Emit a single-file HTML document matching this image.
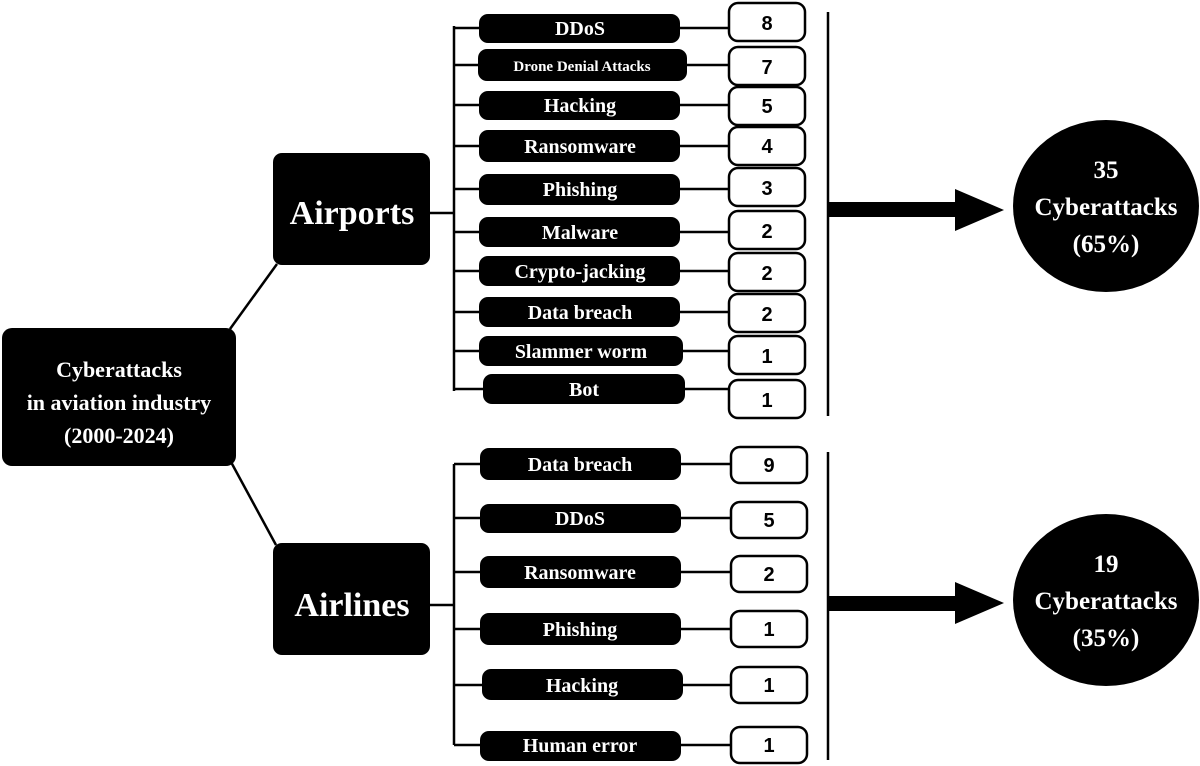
<!DOCTYPE html>
<html><head><meta charset="utf-8"><style>
html,body{margin:0;padding:0;background:#fff;width:1200px;height:766px;overflow:hidden}
svg{display:block}
.s{font-family:"Liberation Serif",serif;font-weight:bold;fill:#fff;text-anchor:middle}
.n{font-family:"Liberation Sans",sans-serif;font-weight:bold;fill:#000;text-anchor:middle;font-size:20px}
</style></head><body>
<svg width="1200" height="766" viewBox="0 0 1200 766" xmlns="http://www.w3.org/2000/svg">
<g stroke="#000" stroke-width="2.5" fill="none">
<line x1="230" y1="329" x2="277" y2="264"/>
<line x1="231" y1="462" x2="276" y2="545"/>
<line x1="430" y1="213" x2="454" y2="213"/>
<line x1="430" y1="605" x2="454" y2="605"/>
<line x1="454" y1="26" x2="454" y2="391"/>
<line x1="454" y1="464" x2="454" y2="745"/>
<line x1="828" y1="12" x2="828" y2="416"/>
<line x1="828" y1="452" x2="828" y2="760"/>
</g>
<rect x="2" y="328" width="234" height="138" rx="10" fill="#000"/>
<text class="s" font-size="22"><tspan x="119" y="377">Cyberattacks</tspan><tspan x="119" y="410">in aviation industry</tspan><tspan x="119" y="443">(2000-2024)</tspan></text>
<rect x="273" y="153" width="157" height="112" rx="9" fill="#000"/>
<text class="s" x="352" y="224" font-size="34">Airports</text>
<rect x="273" y="543" width="157" height="112" rx="9" fill="#000"/>
<text class="s" x="352" y="616" font-size="34">Airlines</text>

<g stroke="#000" stroke-width="2.5">
<line x1="454" y1="28" x2="730" y2="28"/>
<line x1="454" y1="65" x2="730" y2="65"/>
<line x1="454" y1="105" x2="730" y2="105"/>
<line x1="454" y1="146" x2="730" y2="146"/>
<line x1="454" y1="189" x2="730" y2="189"/>
<line x1="454" y1="232" x2="730" y2="232"/>
<line x1="454" y1="271" x2="730" y2="271"/>
<line x1="454" y1="312" x2="730" y2="312"/>
<line x1="454" y1="351" x2="730" y2="351"/>
<line x1="454" y1="389" x2="730" y2="389"/>
<line x1="454" y1="464" x2="730" y2="464"/>
<line x1="454" y1="518" x2="730" y2="518"/>
<line x1="454" y1="572" x2="730" y2="572"/>
<line x1="454" y1="629" x2="730" y2="629"/>
<line x1="454" y1="685" x2="730" y2="685"/>
<line x1="454" y1="745" x2="730" y2="745"/>
</g>
<g fill="#000">
<rect x="479" y="14" width="201" height="29" rx="9"/>
<rect x="478" y="49" width="209" height="32" rx="9"/>
<rect x="479" y="91" width="201" height="29" rx="9"/>
<rect x="479" y="130" width="201" height="32" rx="9"/>
<rect x="479" y="174" width="201" height="31" rx="9"/>
<rect x="479" y="217" width="201" height="30" rx="9"/>
<rect x="479" y="256" width="201" height="30" rx="9"/>
<rect x="479" y="297" width="201" height="30" rx="9"/>
<rect x="479" y="336" width="204" height="30" rx="9"/>
<rect x="483" y="374" width="202" height="30" rx="9"/>
<rect x="480" y="448" width="201" height="32" rx="9"/>
<rect x="480" y="504" width="201" height="29" rx="9"/>
<rect x="480" y="556" width="201" height="32" rx="9"/>
<rect x="480" y="613" width="201" height="32" rx="9"/>
<rect x="482" y="669" width="201" height="31" rx="9"/>
<rect x="480" y="731" width="201" height="30" rx="9"/>
</g>
<g class="s" font-size="20">
<text x="580" y="35">DDoS</text>
<text x="582" y="71" font-size="15">Drone Denial Attacks</text>
<text x="580" y="112">Hacking</text>
<text x="580" y="153">Ransomware</text>
<text x="580" y="196">Phishing</text>
<text x="580" y="239">Malware</text>
<text x="580" y="278">Crypto-jacking</text>
<text x="580" y="319">Data breach</text>
<text x="581" y="358">Slammer worm</text>
<text x="584" y="396">Bot</text>
<text x="580" y="471">Data breach</text>
<text x="580" y="525">DDoS</text>
<text x="580" y="579">Ransomware</text>
<text x="580" y="636">Phishing</text>
<text x="582" y="692">Hacking</text>
<text x="580" y="752">Human error</text>
</g>
<g fill="#fff" stroke="#000" stroke-width="2.5">
<rect x="729" y="3" width="76" height="38" rx="9"/>
<rect x="729" y="47" width="76" height="38" rx="9"/>
<rect x="729" y="87" width="76" height="38" rx="9"/>
<rect x="729" y="127" width="76" height="38" rx="9"/>
<rect x="729" y="168" width="76" height="38" rx="9"/>
<rect x="729" y="211" width="76" height="38" rx="9"/>
<rect x="729" y="253" width="76" height="38" rx="9"/>
<rect x="729" y="294" width="76" height="38" rx="9"/>
<rect x="729" y="336" width="76" height="38" rx="9"/>
<rect x="729" y="380" width="76" height="38" rx="9"/>
<rect x="731" y="447" width="76" height="36" rx="9"/>
<rect x="731" y="502" width="76" height="36" rx="9"/>
<rect x="731" y="556" width="76" height="36" rx="9"/>
<rect x="731" y="611" width="76" height="36" rx="9"/>
<rect x="731" y="667" width="76" height="36" rx="9"/>
<rect x="731" y="727" width="76" height="36" rx="9"/>
</g>
<g class="n">
<text x="767" y="30">8</text>
<text x="767" y="74">7</text>
<text x="767" y="113">5</text>
<text x="767" y="153">4</text>
<text x="767" y="195">3</text>
<text x="767" y="238">2</text>
<text x="767" y="280">2</text>
<text x="767" y="321">2</text>
<text x="767" y="363">1</text>
<text x="767" y="407">1</text>
<text x="769" y="472">9</text>
<text x="769" y="527">5</text>
<text x="769" y="581">2</text>
<text x="769" y="636">1</text>
<text x="769" y="692">1</text>
<text x="769" y="752">1</text>
</g>
<g fill="#000">
<rect x="829" y="202" width="128" height="15"/>
<polygon points="955,189 1004,210 955,231"/>
<rect x="829" y="596" width="128" height="15"/>
<polygon points="955,582 1004,603 955,624"/>
<ellipse cx="1106" cy="206" rx="93" ry="86"/>
<ellipse cx="1106" cy="600" rx="93" ry="86"/>
</g>
<text class="s" font-size="25"><tspan x="1106" y="178">35</tspan><tspan x="1106" y="215">Cyberattacks</tspan><tspan x="1106" y="252">(65%)</tspan></text>
<text class="s" font-size="25"><tspan x="1106" y="572">19</tspan><tspan x="1106" y="609">Cyberattacks</tspan><tspan x="1106" y="646">(35%)</tspan></text>
</svg>
</body></html>
